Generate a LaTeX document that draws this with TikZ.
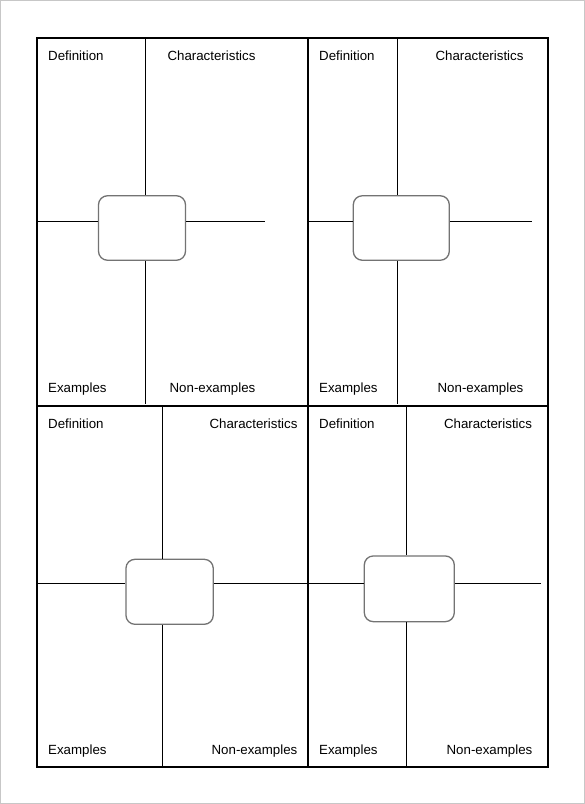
\documentclass[tikz,border=0pt]{standalone}
\usepackage{fontspec}
\setmainfont{Liberation Sans}
\begin{document}
\begin{tikzpicture}[x=1pt,y=-1pt,
  outer/.style={line width=2pt},
  inner/.style={line width=1pt},
  cbox/.style={draw=black!55, line width=1.3pt, rounded corners=9pt, fill=white, inner sep=0pt},
  lbl/.style={font=\fontsize{13.3}{15}\selectfont, inner sep=0pt, anchor=base west},
  lblc/.style={font=\fontsize{13.3}{15}\selectfont, inner sep=0pt, anchor=base}]
\useasboundingbox (0,0) rectangle (585,804);
\draw[black!22, line width=1pt] (0.5,0.5) rectangle (584.5,803.5);
% outer grid
\draw[outer] (37,38) rectangle (548,767);
\draw[outer] (37,405.5) -- (548,405.5);
\draw[outer] (308,38) -- (308,767);
% top-left
\coordinate (tlT) at (145.5,38);
\coordinate (tlB) at (145.5,404);
\coordinate (tlL) at (37,221.5);
\coordinate (tlR) at (265,221.5);
\node[cbox, minimum width=87pt, minimum height=64.5pt] (tlbox) at (142,228) {};
\draw[inner] (tlT) -- (tlbox.north -| tlT);
\draw[inner] (tlbox.south -| tlB) -- (tlB);
\draw[inner] (tlL) -- (tlbox.west |- tlL);
\draw[inner] (tlbox.east |- tlR) -- (tlR);
% top-right
\coordinate (trT) at (397.5,38);
\coordinate (trB) at (397.5,404);
\coordinate (trL) at (308,221.5);
\coordinate (trR) at (532,221.5);
\node[cbox, minimum width=96pt, minimum height=64.5pt] (trbox) at (401.3,228) {};
\draw[inner] (trT) -- (trbox.north -| trT);
\draw[inner] (trbox.south -| trB) -- (trB);
\draw[inner] (trL) -- (trbox.west |- trL);
\draw[inner] (trbox.east |- trR) -- (trR);
% bottom-left
\coordinate (blT) at (162.7,405.5);
\coordinate (blB) at (162.7,767);
\coordinate (blL) at (37,583.3);
\coordinate (blR) at (308,583.3);
\node[cbox, minimum width=87.3pt, minimum height=65pt] (blbox) at (169.6,591.8) {};
\draw[inner] (blT) -- (blbox.north -| blT);
\draw[inner] (blbox.south -| blB) -- (blB);
\draw[inner] (blL) -- (blbox.west |- blL);
\draw[inner] (blbox.east |- blR) -- (blR);
% bottom-right
\coordinate (brT) at (406.3,405.5);
\coordinate (brB) at (406.3,767);
\coordinate (brL) at (308,583.3);
\coordinate (brR) at (541,583.3);
\node[cbox, minimum width=90pt, minimum height=65.7pt] (brbox) at (409.3,588.8) {};
\draw[inner] (brT) -- (brbox.north -| brT);
\draw[inner] (brbox.south -| brB) -- (brB);
\draw[inner] (brL) -- (brbox.west |- brL);
\draw[inner] (brbox.east |- brR) -- (brR);
% labels
\node[lbl] (d1) at (48,60) {Definition};
\node[lblc] (c1) at (211.5,60) {Characteristics};
\node[lbl] (e1) at (48,392) {Examples};
\node[lblc] (n1) at (212.5,392) {Non-examples};
\node[lbl] (d2) at (319,60) {Definition};
\node[lblc] (c2) at (479.5,60) {Characteristics};
\node[lbl] (e2) at (319,392) {Examples};
\node[lblc] (n2) at (480.5,392) {Non-examples};
\node[lbl] (d3) at (48,428) {Definition};
\node[lblc] (c3) at (253.5,428) {Characteristics};
\node[lbl] (e3) at (48,754) {Examples};
\node[lblc] (n3) at (254.5,754) {Non-examples};
\node[lbl] (d4) at (319,428) {Definition};
\node[lblc] (c4) at (488,428) {Characteristics};
\node[lbl] (e4) at (319,754) {Examples};
\node[lblc] (n4) at (489.5,754) {Non-examples};
\end{tikzpicture}
\end{document}
